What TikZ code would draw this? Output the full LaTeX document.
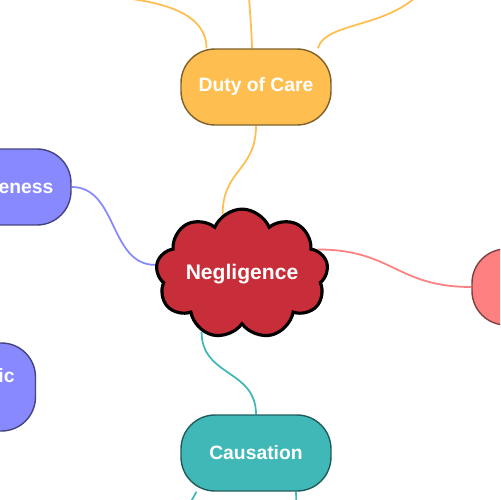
\documentclass[tikz,border=0pt]{standalone}
\usepackage{fontspec}
\setsansfont{Liberation Sans}
\usetikzlibrary{shapes.symbols,backgrounds}
\definecolor{mmorange}{HTML}{FFBE50}
\definecolor{mmteal}{HTML}{40B8B8}
\definecolor{mmblue}{HTML}{8888FF}
\definecolor{mmpink}{HTML}{FF8080}
\definecolor{mmred}{HTML}{C82D3A}

\begin{document}
\begin{tikzpicture}[x=0.02cm, y=-0.02cm,
  font=\sffamily\bfseries,
  topic/.style={rounded corners=0.68cm, draw=#1!50!black, fill=#1, line width=0.8pt, text=white,
                minimum width=3cm, minimum height=1.52cm, align=center, inner sep=2pt,
                font=\sffamily\bfseries\fontsize{11}{13.5}\selectfont},
  link/.style={line width=1pt, #1},
]
\useasboundingbox (0,0) rectangle (500,500);
\clip (0,0) rectangle (500,500);
\node[cloud, cloud puffs=9, cloud puff arc=135, aspect=1.6, draw=black, fill=mmred, line width=1.8pt,
  minimum width=3.2cm, minimum height=1.95cm, inner sep=0pt, text=white,
  font=\sffamily\bfseries\fontsize{12}{14}\selectfont] (neg) at (242,274) {Negligence};
\node[topic=mmorange] (duty) at (256,87) {Duty of Care};
\node[topic=mmteal] (caus) at (256,453) {Causation};
\node[topic=mmblue] (remote) at (-4,187) {Remoteness};
\node[topic=mmblue, minimum width=2.9cm, minimum height=1.76cm] (psych) at (-37,387) {Psychiatric\\Harm};
\node[topic=mmpink] (breach) at (547,287) {};
% children outside the frame
\coordinate (dutyA) at (60,-5);
\coordinate (dutyB) at (247,-40);
\coordinate (dutyC) at (430,-20);
\coordinate (causA) at (160,540);
\coordinate (causB) at (300,540);
\begin{scope}[on background layer]
\draw[link=mmorange] (duty.south) .. controls +(0,45) and +(0,-45) .. (neg.108);
\draw[link=mmblue] (remote.east) .. controls +(46,0) and +(-46,0) .. (neg.174);
\draw[link=mmpink] (neg.18) .. controls +(75,0) and +(-75,0) .. (breach.west);
\draw[link=mmteal] (neg.235) .. controls +(0,45) and +(0,-45) .. (caus.north);
\draw[link=mmorange] (duty.142) .. controls +(0,-40) and +(90,0) .. (dutyA);
\draw[link=mmorange] (duty.96) .. controls +(0,-20) and +(0,20) .. (dutyB);
\draw[link=mmorange] (duty.32) .. controls +(8,-29) and +(-30,50) .. (dutyC);
\draw[link=mmteal] (caus.213) .. controls +(-5,10) and +(20,-20) .. (causA);
\draw[link=mmteal] (caus.-44) .. controls +(0,20) and +(0,-20) .. (causB);
\end{scope}
\end{tikzpicture}
\end{document}
